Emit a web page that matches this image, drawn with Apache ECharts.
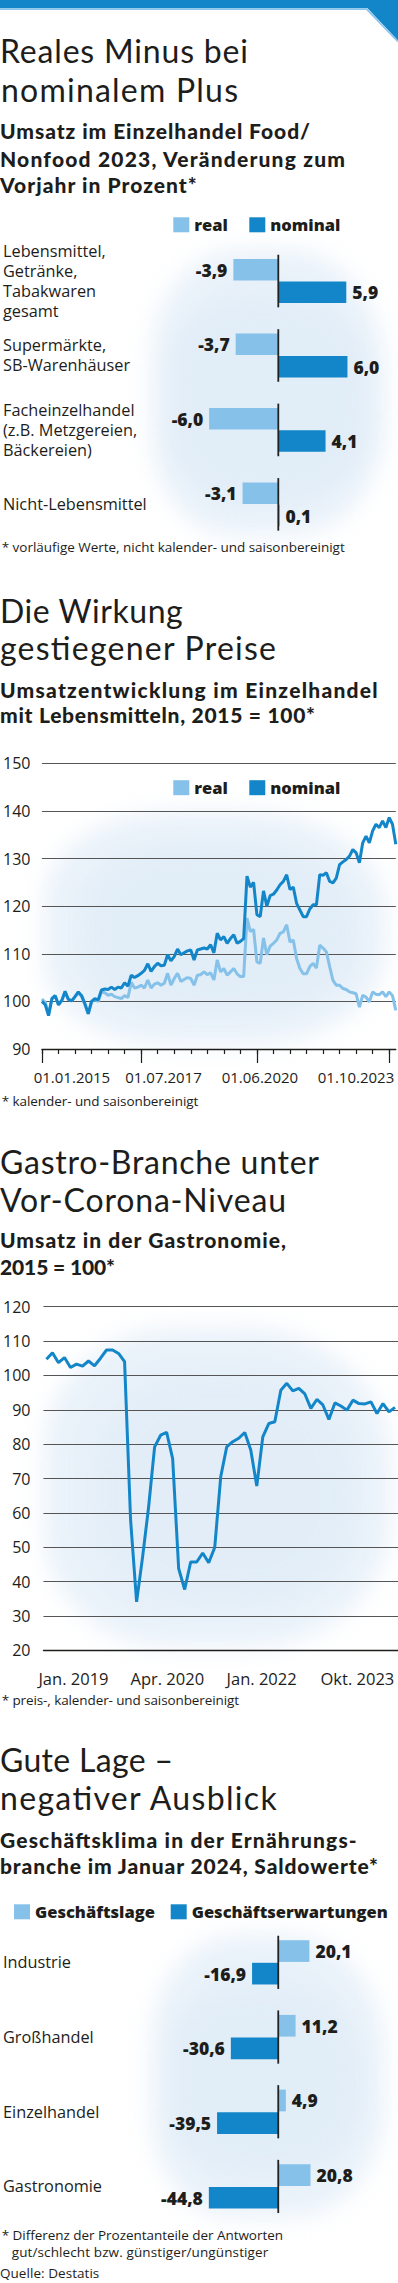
<!DOCTYPE html>
<html lang="de">
<head>
<meta charset="utf-8">
<title>Lebensmittelhandel und Gastronomie</title>
<script src="https://cdn.jsdelivr.net/npm/echarts@6/dist/echarts.min.js"></script>
<style>
  html, body { margin: 0; padding: 0; background: #ffffff; }
  #page { position: relative; width: 398px; height: 2283px; overflow: hidden; background: #fff; }
  .blob { position: absolute; background: #d3e4f4; filter: blur(12px); opacity: 0.5; border-radius: 38% 42% 40% 36%; z-index: 0; }
  #chart { position: absolute; left: 0; top: 0; width: 398px; height: 2283px; z-index: 1; }
  #txt { position: absolute; left: 0; top: 0; z-index: 2; pointer-events: none; }
  #txt text { fill: #1d1d1b; }
  .t { font-family: Lato, 'Open Sans', sans-serif; font-size: 32px; font-weight: 400; }
  .s { font-family: Lato, 'Open Sans', sans-serif; font-size: 21px; font-weight: 900; }
  .f { font-family: 'Open Sans', 'Noto Sans', sans-serif; font-size: 13.5px; font-weight: 400; }
</style>
</head>
<body>
<div id="page">
  <!-- watercolour washes behind the charts -->
  <div class="blob" style="left:152px;top:250px;width:232px;height:285px;"></div>
  <div class="blob" style="left:170px;top:300px;width:200px;height:200px;opacity:0.3;"></div>
  <div class="blob" style="left:45px;top:812px;width:340px;height:232px;"></div>
  <div class="blob" style="left:90px;top:850px;width:260px;height:160px;opacity:0.3;"></div>
  <div class="blob" style="left:45px;top:1328px;width:345px;height:318px;"></div>
  <div class="blob" style="left:100px;top:1380px;width:250px;height:220px;opacity:0.28;"></div>
  <div class="blob" style="left:152px;top:1935px;width:232px;height:282px;"></div>
  <div class="blob" style="left:170px;top:1990px;width:190px;height:180px;opacity:0.3;"></div>

  <div id="chart"></div>

  <svg id="txt" width="398" height="2283" xmlns="http://www.w3.org/2000/svg">
    <polygon points="0,0 398,0 398,40.5 367.5,8.3 0,8.3" fill="#1386c9"/>
    <polyline points="0,9.2 366.6,9.2 398,41.6" fill="none" stroke="#8cc4ec" stroke-width="1.7"/>

    <text class="t" x="0" y="63.3" textLength="248" lengthAdjust="spacing">Reales Minus bei</text>
    <text class="t" x="1" y="101.7" textLength="237" lengthAdjust="spacing">nominalem Plus</text>
    <text class="s" x="0" y="139.3" textLength="310" lengthAdjust="spacing">Umsatz im Einzelhandel Food/</text>
    <text class="s" x="0" y="166.7" textLength="345" lengthAdjust="spacing">Nonfood 2023, Veränderung zum</text>
    <text class="s" x="0" y="193.3" textLength="196.7" lengthAdjust="spacing">Vorjahr in Prozent*</text>
    <text class="f" x="1.7" y="551.7" textLength="343" lengthAdjust="spacing">* vorläufige Werte, nicht kalender- und saisonbereinigt</text>

    <text class="t" x="0" y="623.3" textLength="182.7" lengthAdjust="spacing">Die Wirkung</text>
    <text class="t" x="0" y="660" textLength="276" lengthAdjust="spacing">gestiegener Preise</text>
    <text class="s" x="0" y="697.7" textLength="377.7" lengthAdjust="spacing">Umsatzentwicklung im Einzelhandel</text>
    <text class="s" x="0" y="723.3" textLength="315" lengthAdjust="spacing">mit Lebensmitteln, 2015 = 100*</text>
    <text class="f" x="1.7" y="1106" textLength="196.6" lengthAdjust="spacing">* kalender- und saisonbereinigt</text>

    <text class="t" x="0" y="1174" textLength="319" lengthAdjust="spacing">Gastro-Branche unter</text>
    <text class="t" x="0" y="1211.7" textLength="286" lengthAdjust="spacing">Vor-Corona-Niveau</text>
    <text class="s" x="0" y="1248.3" textLength="286" lengthAdjust="spacing">Umsatz in der Gastronomie,</text>
    <text class="s" x="0" y="1275" textLength="115" lengthAdjust="spacing">2015 = 100*</text>
    <text class="f" x="1.7" y="1705" textLength="237.3" lengthAdjust="spacing">* preis-, kalender- und saisonbereinigt</text>

    <text class="t" x="0" y="1771.7" textLength="173" lengthAdjust="spacing">Gute Lage –</text>
    <text class="t" x="0" y="1810" textLength="276.7" lengthAdjust="spacing">negativer Ausblick</text>
    <text class="s" x="0" y="1847.7" textLength="356.7" lengthAdjust="spacing">Geschäftsklima in der Ernährungs-</text>
    <text class="s" x="0" y="1874.3" textLength="378" lengthAdjust="spacing">branche im Januar 2024, Saldowerte*</text>
    <text class="f" x="1.7" y="2240" textLength="281.3" lengthAdjust="spacing">* Differenz der Prozentanteile der Antworten</text>
    <text class="f" x="11.7" y="2256.7" textLength="256.6" lengthAdjust="spacing">gut/schlecht bzw. günstiger/ungünstiger</text>
    <text class="f" x="0" y="2278.3" textLength="99.3" lengthAdjust="spacing">Quelle: Destatis</text>
  </svg>
</div>

<script>
// ---------------- DATA ----------------
// Chart 1: Umsatz im Einzelhandel Food/Nonfood 2023, Veränderung zum Vorjahr in %
const foodCategories = [
  'Lebensmittel,\nGetränke,\nTabakwaren\ngesamt',
  'Supermärkte,\nSB-Warenhäuser',
  'Facheinzelhandel\n(z.B. Metzgereien,\nBäckereien)',
  'Nicht-Lebensmittel'
];
const foodReal    = [-3.9, -3.7, -6.0, -3.1];
const foodNominal = [5.9, 6.0, 4.1, 0.1];

// Chart 2: Umsatzentwicklung im Einzelhandel mit Lebensmitteln, 2015 = 100 (monthly from Jan 2015)
const retailNominal = [
  100.0, 99.3, 97.0, 100.5, 101.2, 99.3, 100.2, 102.1, 100.4, 100.1,
  101.0, 102.0, 101.2, 99.5, 97.4, 100.0, 100.6, 100.3, 102.4, 102.6,
  102.5, 103.0, 102.5, 103.0, 102.8, 103.9, 103.2, 105.5, 105.0, 105.4,
  105.9, 106.5, 107.9, 106.3, 107.3, 108.0, 107.5, 107.6, 109.8, 108.5,
  109.4, 111.0, 109.8, 110.2, 110.6, 110.8, 108.7, 110.8, 111.0, 111.2,
  111.0, 111.9, 110.2, 114.3, 112.9, 113.6, 112.2, 113.2, 114.0, 112.2,
  112.6, 113.2, 126.3, 124.0, 125.0, 118.2, 117.8, 123.2, 120.0, 122.2,
  122.5, 123.4, 124.5, 125.2, 126.6, 123.5, 124.0, 120.6, 119.2, 117.8,
  117.8, 119.4, 120.3, 120.3, 126.6, 126.5, 127.0, 125.2, 124.9, 125.9,
  128.7, 129.3, 129.8, 130.5, 131.9, 131.2, 129.1, 133.3, 134.7, 133.3,
  135.8, 137.2, 136.5, 137.9, 136.5, 138.6, 137.2, 133.0
];
const retailReal = [
  100.5, 99.8, 97.3, 100.7, 101.2, 99.3, 100.2, 101.9, 100.4, 100.1,
  101.0, 101.8, 101.0, 99.3, 97.4, 99.9, 100.4, 100.0, 102.0, 101.8,
  101.3, 101.5, 101.0, 100.8, 100.6, 101.2, 100.8, 104.0, 102.8, 103.0,
  103.4, 102.8, 104.5, 102.8, 103.6, 103.9, 103.4, 103.8, 105.9, 103.4,
  104.8, 105.9, 104.2, 104.6, 105.0, 104.8, 103.4, 105.5, 105.6, 106.2,
  105.6, 106.0, 104.5, 108.7, 106.2, 106.9, 105.5, 106.2, 106.9, 105.8,
  105.2, 105.2, 117.5, 114.7, 115.1, 108.3, 108.0, 113.3, 109.8, 111.6,
  112.2, 112.9, 114.3, 114.6, 116.1, 112.5, 112.9, 109.0, 106.9, 105.8,
  105.8, 107.3, 108.0, 107.0, 111.8, 111.2, 110.4, 107.3, 104.4, 103.4,
  103.4, 102.7, 102.5, 102.0, 101.8, 101.6, 98.8, 101.3, 100.9, 99.9,
  102.0, 101.5, 101.4, 102.0, 101.0, 102.0, 101.2, 98.1
];
const retailTickLabels = ['01.01.2015', '01.07.2017', '01.06.2020', '01.10.2023'];

// Chart 3: Umsatz in der Gastronomie, 2015 = 100 (monthly from Jan 2019)
const gastroValues = [
  104.7, 106.6, 103.7, 105.2, 102.3, 103.3, 102.7, 104.2, 102.8, 105.0,
  107.4, 107.4, 106.4, 104.0, 58.0, 34.1, 47.2, 61.7, 79.2, 82.6,
  83.4, 75.8, 43.8, 37.7, 45.7, 45.7, 48.3, 45.5, 49.9, 70.5,
  79.2, 80.7, 81.7, 83.4, 78.3, 67.8, 82.1, 86.0, 86.5, 95.7,
  97.7, 95.5, 96.2, 94.6, 90.4, 93.0, 91.4, 87.2, 92.0, 91.1,
  89.9, 92.8, 91.8, 91.7, 92.3, 88.9, 91.8, 89.4, 90.7
];
const gastroTickLabels = ['Jan. 2019', 'Apr. 2020', 'Jan. 2022', 'Okt. 2023'];

// Chart 4: Geschäftsklima in der Ernährungsbranche im Januar 2024, Saldowerte
const climateCategories  = ['Industrie', 'Großhandel', 'Einzelhandel', 'Gastronomie'];
const climateLage        = [20.1, 11.2, 4.9, 20.8];
const climateErwartungen = [-16.9, -30.6, -39.5, -44.8];

// ---------------- STYLE ----------------
const LIGHT = '#86c1e9';
const DARK  = '#1386c9';
const INK   = '#1d1d1b';
const GRIDC = '#555555';
const FONT  = "'Open Sans', 'Noto Sans', sans-serif";
const retailLabelShift = [30, 22.3, 3, -33.2];
const gastroLabelShift = [27, 30.7, -1.2, -31.6];

const fmt = v => v.toFixed(1).replace('.', ',');
const deMonths = ['Jan.', 'Feb.', 'März', 'Apr.', 'Mai', 'Juni', 'Juli', 'Aug.', 'Sept.', 'Okt.', 'Nov.', 'Dez.'];
const retailMonths = retailNominal.map((_, i) =>
  '01.' + String(i % 12 + 1).padStart(2, '0') + '.' + (2015 + Math.floor(i / 12)));
const gastroMonths = gastroValues.map((_, i) => deMonths[i % 12] + ' ' + (2019 + Math.floor(i / 12)));

function richFor(shifts, size) {
  const r = {};
  shifts.forEach((d, i) => {
    r['s' + i] = { fontSize: size, fontFamily: FONT, color: INK,
      padding: [0, d < 0 ? -2 * d : 0, 0, d > 0 ? 2 * d : 0] };
  });
  return r;
}
function tickFormatter(labels) {
  return v => { const i = labels.indexOf(v); return i < 0 ? '' : '{s' + i + '|' + v + '}'; };
}
function zeroLine(half) {
  return function (params, api) {
    const p = api.coord([0, api.value(1)]);
    return { type: 'line', silent: true,
      shape: { x1: p[0], y1: p[1] - half, x2: p[0], y2: p[1] + half },
      style: { stroke: '#222', lineWidth: 1.8 } };
  };
}
function barItems(arr) {
  return arr.map(v => ({ value: v, label: { position: v < 0 ? 'left' : 'right' } }));
}
const barLabel = { show: true, distance: 6, formatter: p => fmt(p.value),
  fontFamily: FONT, fontWeight: 800, fontSize: 17.5, color: INK };
const legendBase = { orient: 'horizontal', padding: 0, itemWidth: 16, itemHeight: 15, icon: 'rect',
  selectedMode: false, textStyle: { fontFamily: FONT, fontWeight: 800, fontSize: 16.5, color: INK } };
const catLabel = { fontFamily: FONT, fontSize: 16.3, lineHeight: 20, color: INK, align: 'left' };

const option = {
  animation: false,
  backgroundColor: 'transparent',
  legend: [
    Object.assign({}, legendBase, { data: ['real'], left: 173.3, top: 216.3 }),
    Object.assign({}, legendBase, { data: ['nominal'], left: 249.3, top: 216.3 }),
    Object.assign({}, legendBase, { data: ['real'], left: 173.3, top: 779.2 }),
    Object.assign({}, legendBase, { data: ['nominal'], left: 249.3, top: 779.2 }),
    Object.assign({}, legendBase, { data: ['Geschäftslage'], left: 14, top: 1903.3 }),
    Object.assign({}, legendBase, { data: ['Geschäftserwartungen'], left: 170.7, top: 1903.3 })
  ],
  grid: [
    { left: 184.1, top: 243.8, width: 186.4, height: 297.8 },
    { left: 39.5, top: 763.3, width: 356.3, height: 285.7 },
    { left: 41.3, top: 1306.7, width: 358.7, height: 343.6 },
    { left: 183.3, top: 1925, width: 187.9, height: 298.8 }
  ],
  xAxis: [
    { gridIndex: 0, type: 'value', min: -8, max: 8, show: false },
    { gridIndex: 1, type: 'category', data: retailMonths, boundaryGap: false,
      axisLine: { lineStyle: { color: INK, width: 1.3 } },
      axisTick: { interval: (i) => i % 5 === 0, length: 5, lineStyle: { color: INK, width: 1.2 } },
      axisLabel: { show: false }, splitLine: { show: false } },
    { gridIndex: 1, type: 'category', data: retailMonths, boundaryGap: false, position: 'bottom',
      axisLine: { show: false },
      axisTick: { interval: (i, v) => retailTickLabels.includes(v), length: 14, lineStyle: { color: INK, width: 1.2 } },
      axisLabel: { interval: (i, v) => retailTickLabels.includes(v), margin: 20,
        formatter: tickFormatter(retailTickLabels), rich: richFor(retailLabelShift, 15),
        fontFamily: FONT, fontSize: 15, color: INK } },
    { gridIndex: 2, type: 'category', data: gastroMonths, boundaryGap: true,
      axisLine: { lineStyle: { color: INK, width: 1.3 } },
      axisTick: { interval: (i) => i % 3 === 0, length: 6, lineStyle: { color: INK, width: 1.2 } },
      axisLabel: { show: false } },
    { gridIndex: 2, type: 'category', data: gastroMonths, boundaryGap: true, position: 'bottom',
      axisLine: { show: false },
      axisTick: { interval: (i, v) => gastroTickLabels.includes(v), length: 13, lineStyle: { color: INK, width: 1.2 } },
      axisLabel: { interval: (i, v) => gastroTickLabels.includes(v), margin: 20,
        formatter: tickFormatter(gastroTickLabels), rich: richFor(gastroLabelShift, 16.5),
        fontFamily: FONT, fontSize: 16.5, color: INK } },
    { gridIndex: 3, type: 'value', min: -60, max: 60, show: false }
  ],
  yAxis: [
    { gridIndex: 0, type: 'category', data: foodCategories, inverse: true,
      axisLine: { show: false }, axisTick: { show: false },
      axisLabel: Object.assign({ margin: 183.1 }, catLabel) },
    { gridIndex: 1, type: 'value', min: 90, max: 150, interval: 10,
      axisLine: { show: false }, axisTick: { show: false },
      splitLine: { lineStyle: { color: GRIDC, width: 1 } },
      axisLabel: { margin: 11.5, fontFamily: FONT, fontSize: 16, color: INK } },
    { gridIndex: 2, type: 'value', min: 20, max: 120, interval: 10,
      axisLine: { show: false }, axisTick: { show: false },
      splitLine: { lineStyle: { color: GRIDC, width: 1 } },
      axisLabel: { margin: 13, fontFamily: FONT, fontSize: 16, color: INK } },
    { gridIndex: 3, type: 'category', data: climateCategories, inverse: true,
      axisLine: { show: false }, axisTick: { show: false },
      axisLabel: Object.assign({ margin: 182.3 }, catLabel) }
  ],
  series: [
    { name: 'real', type: 'bar', xAxisIndex: 0, yAxisIndex: 0, data: barItems(foodReal),
      barWidth: 21.5, barGap: '4%', itemStyle: { color: LIGHT }, label: barLabel },
    { name: 'nominal', type: 'bar', xAxisIndex: 0, yAxisIndex: 0, data: barItems(foodNominal),
      barWidth: 21.5, barGap: '4%', itemStyle: { color: DARK }, label: barLabel },
    { type: 'custom', xAxisIndex: 0, yAxisIndex: 0, silent: true, z: 10,
      data: foodCategories.map((c, i) => [0, i]), encode: { x: 0, y: 1 }, renderItem: zeroLine(26.3) },

    { name: 'real', type: 'line', xAxisIndex: 1, yAxisIndex: 1, data: retailReal,
      showSymbol: false, lineStyle: { color: LIGHT, width: 3 }, itemStyle: { color: LIGHT } },
    { name: 'nominal', type: 'line', xAxisIndex: 1, yAxisIndex: 1, data: retailNominal,
      showSymbol: false, lineStyle: { color: DARK, width: 3 }, itemStyle: { color: DARK } },

    { name: 'Gastronomie', type: 'line', xAxisIndex: 3, yAxisIndex: 2, data: gastroValues,
      showSymbol: false, lineStyle: { color: DARK, width: 3 }, itemStyle: { color: DARK } },

    { name: 'Geschäftslage', type: 'bar', xAxisIndex: 5, yAxisIndex: 3, data: barItems(climateLage),
      barWidth: 21.7, barGap: '4%', itemStyle: { color: LIGHT }, label: barLabel },
    { name: 'Geschäftserwartungen', type: 'bar', xAxisIndex: 5, yAxisIndex: 3, data: barItems(climateErwartungen),
      barWidth: 21.7, barGap: '4%', itemStyle: { color: DARK }, label: barLabel },
    { type: 'custom', xAxisIndex: 5, yAxisIndex: 3, silent: true, z: 10,
      data: climateCategories.map((c, i) => [0, i]), encode: { x: 0, y: 1 }, renderItem: zeroLine(26.6) }
  ]
};

const chart = echarts.init(document.getElementById('chart'), null, { renderer: 'svg', width: 398, height: 2283 });
chart.setOption(option);
</script>
</body>
</html>
